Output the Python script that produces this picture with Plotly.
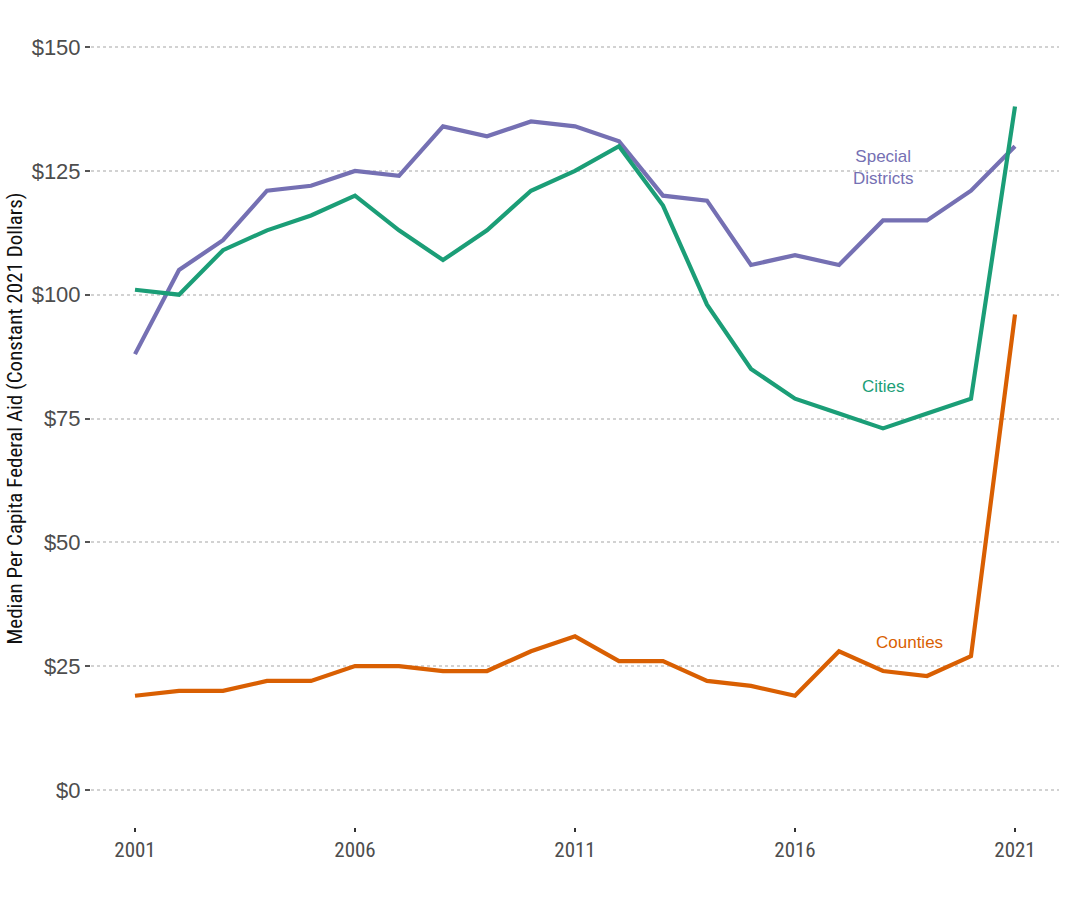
import plotly.graph_objects as go

years = list(range(2001, 2022))
special_districts = [88, 105, 111, 121, 122, 125, 124, 134, 132, 135, 134, 131, 120, 119, 106, 108, 106, 115, 115, 121, 130]
cities = [101, 100, 109, 113, 116, 120, 113, 107, 113, 121, 125, 130, 118, 98, 85, 79, 76, 73, 76, 79, 138]
counties = [19, 20, 20, 22, 22, 25, 25, 24, 24, 28, 31, 26, 26, 22, 21, 19, 28, 24, 23, 27, 96]

y_ticks = [0, 25, 50, 75, 100, 125, 150]
y_tick_labels = ["$0", "$25", "$50", "$75", "$100", "$125", "$150"]
x_ticks = [2001, 2006, 2011, 2016, 2021]

PURPLE = "#7570b3"
GREEN = "#1b9e77"
ORANGE = "#d95f02"
FONT = "Liberation Sans, Arial, sans-serif"
NARROW = "Roboto Condensed, DejaVu Sans Condensed, Liberation Sans, sans-serif"

fig = go.Figure()
for name, vals, col in [("Special Districts", special_districts, PURPLE),
                        ("Cities", cities, GREEN),
                        ("Counties", counties, ORANGE)]:
    fig.add_trace(go.Scatter(x=years, y=vals, mode="lines", name=name,
                             line=dict(color=col, width=4.2)))

labels = [
    (2018.0, 125.6, "Special<br>Districts", PURPLE),
    (2018.0, 81.5, "Cities", GREEN),
    (2018.6, 29.8, "Counties", ORANGE),
]
for x, y, t, c in labels:
    fig.add_annotation(x=x, y=y, text=t, showarrow=False, xanchor="center", yanchor="middle",
                       font=dict(family=FONT, size=17, color=c), align="center")

fig.update_layout(
    width=1068, height=899,
    margin=dict(l=91, r=9, t=10, b=72),
    paper_bgcolor="white", plot_bgcolor="white",
    showlegend=False,
    xaxis=dict(range=[2000, 2022], tickvals=x_ticks, ticktext=[str(v) for v in x_ticks],
               showgrid=False, zeroline=False, showline=False,
               ticks="outside", ticklen=4, tickcolor="#333333", tickwidth=1.5,
               tickfont=dict(family=NARROW, size=21, color="#4d4d4d")),
    yaxis=dict(range=[-7.5, 157.5], tickvals=y_ticks, ticktext=y_tick_labels,
               showgrid=True, gridcolor="#d2d2d2", griddash="dot", gridwidth=1.5,
               zeroline=False, showline=False,
               ticks="outside", ticklen=5, tickcolor="#555555", tickwidth=1.5,
               tickfont=dict(family=FONT, size=22, color="#4d4d4d"),
               title=dict(text="Median Per Capita Federal Aid (Constant 2021 Dollars)",
                          font=dict(family=NARROW, size=21, color="#111111"),
                          standoff=3)),
)

fig.write_html("out.html")
